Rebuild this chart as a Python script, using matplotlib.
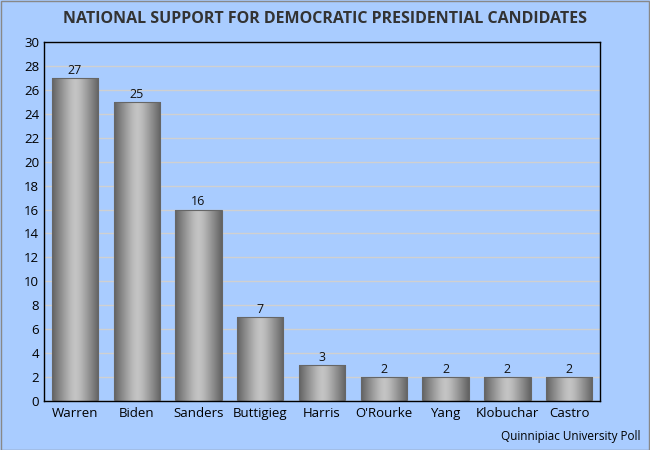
import matplotlib.pyplot as plt
import numpy as np

candidates = ["Warren", "Biden", "Sanders", "Buttigieg", "Harris", "O'Rourke", "Yang", "Klobuchar", "Castro"]
support = [27, 25, 16, 7, 3, 2, 2, 2, 2]

plt.rcParams["font.family"] = ["Open Sans", "DejaVu Sans"]
bg = "#a9ccff"
fig = plt.figure(figsize=(6.5, 4.5), dpi=100, facecolor=bg)
ax = fig.add_axes([44/650, 49/450, 556/650, 359/450], facecolor=bg)

x = np.arange(len(candidates))
bars = ax.bar(x, support, width=0.75, color="none", edgecolor="#666666", linewidth=0.8, zorder=3)

# cylinder-like gray gradient inside each bar
grad = np.abs(np.linspace(-1, 1, 256)) ** 1.3
grad = np.vstack([grad, grad])
for b in bars:
    im = ax.imshow(grad, cmap="Greys", vmin=-1.0, vmax=1.9, aspect="auto",
                   extent=[b.get_x(), b.get_x() + b.get_width(), 0, b.get_height()], zorder=2)
    im.set_clip_path(b)

for xi, v in zip(x, support):
    ax.text(xi, v + 0.1, str(v), ha="center", va="bottom", fontsize=9, color="#111111")

ax.set_xlim(-0.5, len(candidates) - 0.5)
ax.set_ylim(0, 30)
ax.set_yticks(range(0, 31, 2))
ax.set_xticks(x)
ax.set_xticklabels(candidates, fontsize=9.5)
ax.tick_params(axis="y", labelsize=9.5, length=0)
ax.tick_params(axis="x", length=0, pad=4)
ax.grid(axis="y", color="#d0d0d0", linewidth=1, zorder=1)
for s in ax.spines.values():
    s.set_color("black")
    s.set_linewidth(1)

fig.text(0.5, 0.958, "NATIONAL SUPPORT FOR DEMOCRATIC PRESIDENTIAL CANDIDATES",
         ha="center", va="center", fontsize=11.5, fontweight="bold", color="#333333")
fig.text(0.985, 0.015, "Quinnipiac University Poll", ha="right", va="bottom", fontsize=8.5)
fig.patches.append(plt.Rectangle((0.001, 0.001), 0.997, 0.997, transform=fig.transFigure,
                                 fill=False, edgecolor="#888888", linewidth=1))

fig.savefig("out.png", dpi=100, facecolor=bg)
